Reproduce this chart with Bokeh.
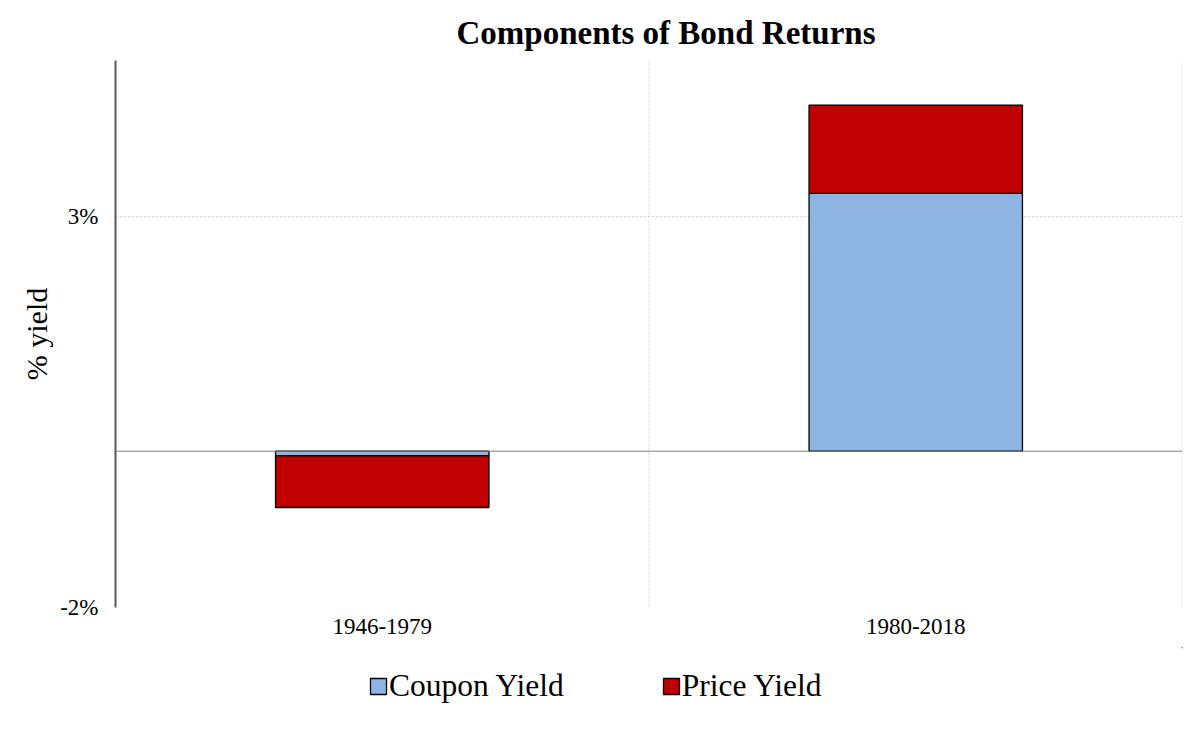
from bokeh.plotting import figure
from bokeh.layouts import column
from bokeh.models import (Range1d, FixedTicker, PrintfTickFormatter, Span, Legend,
                          LegendItem, ColumnDataSource)
from bokeh.embed import file_html
from bokeh.resources import INLINE

categories = ["1946-1979", "1980-2018"]
coupon_yield = [-0.06, 3.30]
price_yield = [-0.66, 1.13]
series_names = ["Coupon Yield", "Price Yield"]
series_colors = ["#8EB4E3", "#C00000"]
y_ticks = [-2, 3]

FONT = "Liberation Serif"

source = ColumnDataSource(dict(cat=categories, coupon=coupon_yield, price=price_yield))

p = figure(x_range=categories, y_range=Range1d(-2, 5),
           frame_width=1067, frame_height=547,
           output_backend="svg", toolbar_location=None,
           min_border_left=115, min_border_right=10, min_border_top=60, min_border_bottom=40)

renderers = p.vbar_stack(["coupon", "price"], x="cat", width=0.4, source=source,
                         fill_color=series_colors, line_color="black", line_width=1.3)

p.title.text = "Components of Bond Returns"
p.title.align = "left"
p.title.offset = 341
p.title.standoff = 20
p.title.text_font = FONT
p.title.text_font_size = "33px"
p.title.text_font_style = "bold"
p.title.text_color = "black"

p.outline_line_color = None
p.background_fill_color = "white"
p.border_fill_color = "white"

yax = p.yaxis[0]
yax.ticker = FixedTicker(ticks=y_ticks)
yax.formatter = PrintfTickFormatter(format="%d%%")
yax.major_tick_line_color = None
yax.minor_tick_line_color = None
yax.axis_line_color = "#595959"
yax.axis_line_width = 2
yax.major_label_text_font = FONT
yax.major_label_text_font_size = "23px"
yax.major_label_text_color = "black"
yax.major_label_standoff = 11
yax.axis_label = "% yield"
yax.axis_label_text_font = FONT
yax.axis_label_text_font_size = "30px"
yax.axis_label_text_font_style = "normal"
yax.axis_label_text_color = "black"
yax.axis_label_standoff = 4

xax = p.xaxis[0]
xax.axis_line_color = None
xax.major_tick_line_color = None
xax.minor_tick_line_color = None
xax.major_label_text_font = FONT
xax.major_label_text_font_size = "23px"
xax.major_label_text_color = "black"
xax.major_label_standoff = 5

p.xgrid.visible = False
p.ygrid.grid_line_color = "#D0D0D0"
p.ygrid.grid_line_dash = "2 2"
p.ygrid.grid_line_width = 1

for loc in [1, 2]:
    p.add_layout(Span(location=loc, dimension="height", line_color="#D0D0D0",
                      line_dash="2 2", line_width=1))
p.add_layout(Span(location=0, dimension="width", line_color="#808080", line_width=1))

# legend strip below the chart (swatch renderers sit outside the visible range)
lg = figure(width=1192, height=80, x_range=Range1d(0, 1), y_range=Range1d(0, 1),
            x_axis_type=None, y_axis_type=None, output_backend="svg",
            toolbar_location=None, min_border=0)
lg.outline_line_color = None
lg.xgrid.visible = False
lg.ygrid.visible = False
dummies = [lg.vbar(x=[10], top=[11], bottom=[10], width=0.1, fill_color=c,
                   line_color="black", line_width=1.3)
           for c in series_colors]
legend = Legend(items=[LegendItem(label=n, renderers=[r]) for n, r in zip(series_names, dummies)],
                orientation="horizontal", location=(253, 23),
                label_text_font=FONT, label_text_font_size="31.5px", label_text_color="black",
                glyph_width=20, glyph_height=20, label_standoff=1, spacing=97,
                border_line_color=None, background_fill_alpha=0, padding=0, margin=0)
lg.add_layout(legend, "center")

layout = column(p, lg, spacing=0)
open("out.html", "w").write(file_html(layout, INLINE))
